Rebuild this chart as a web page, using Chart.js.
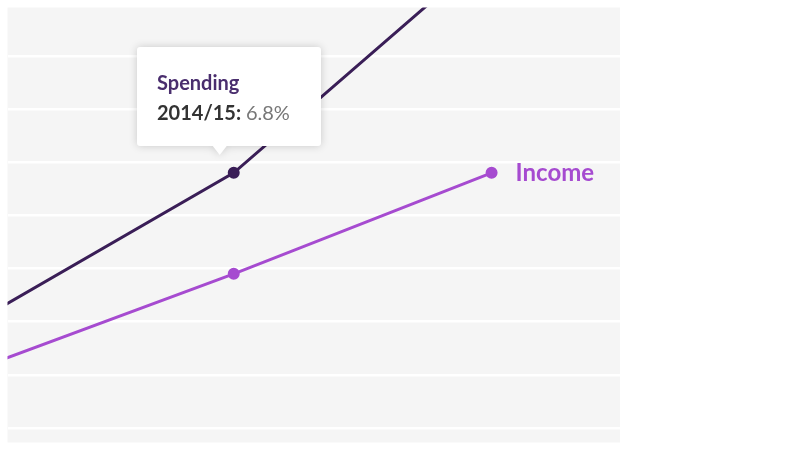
<!DOCTYPE html><html><head><meta charset="utf-8">
<script src="https://cdn.jsdelivr.net/npm/chart.js@4"></script>
<style>html,body{margin:0;background:#fff}#w{width:800px;height:450px}</style></head><body><div id="w"><canvas id="c"></canvas></div>
<script>
const categories = ["2013/14","2014/15","2015/16"];
const spending = [4.0, 6.8, 11.0];
const income = [3.1, 4.9, 6.8];
const pts = a => a.map((v,i)=>({x:i,y:v}));
const extras = {
 id:'extras',
 beforeDraw(ch){const {ctx,chartArea:a}=ch;ctx.save();ctx.fillStyle='#f5f5f5';ctx.fillRect(a.left,a.top,a.right-a.left,a.bottom-a.top);ctx.restore();},
 afterDraw(ch){
  const ctx=ch.ctx;
  const m=ch.getDatasetMeta(1).data[2];
  ctx.save();ctx.font='bold 24px Lato';ctx.fillStyle='#a64bd0';ctx.textBaseline='middle';ctx.fillText('Income',m.x+24,m.y);
  const p=ch.getDatasetMeta(0).data[1];
  const bx=137,by=47,bw=184,bh=99;
  ctx.shadowColor='rgba(0,0,0,0.18)';ctx.shadowBlur=8;ctx.fillStyle='#fff';
  ctx.beginPath();ctx.moveTo(bx+3,by);ctx.lineTo(bx+bw-3,by);ctx.quadraticCurveTo(bx+bw,by,bx+bw,by+3);ctx.lineTo(bx+bw,by+bh-3);ctx.quadraticCurveTo(bx+bw,by+bh,bx+bw-3,by+bh);
  ctx.lineTo(p.x-7,by+bh);ctx.lineTo(p.x-14,by+bh+9);ctx.lineTo(p.x-21,by+bh);
  ctx.lineTo(bx+3,by+bh);ctx.quadraticCurveTo(bx,by+bh,bx,by+bh-3);ctx.lineTo(bx,by+3);ctx.quadraticCurveTo(bx,by,bx+3,by);ctx.fill();
  ctx.shadowColor='transparent';
  ctx.textBaseline='alphabetic';ctx.font='bold 20px Lato';ctx.fillStyle='#4a2e6e';ctx.fillText('Spending',157,90);
  ctx.fillStyle='#333';ctx.fillText(categories[1]+':',157,120);
  const w=ctx.measureText(categories[1]+': ').width;
  ctx.font='20px Lato';ctx.fillStyle='#777';ctx.fillText(spending[1].toFixed(1)+'%',157+w,120);
  ctx.restore();
 }};
new Chart(document.getElementById('c'),{type:'line',
 data:{datasets:[
  {label:'Spending',data:pts(spending),borderColor:'#3a1e57',backgroundColor:'#3a1e57',borderWidth:3,pointRadius:[0,4.5,0],pointHoverRadius:4.5},
  {label:'Income',data:pts(income),borderColor:'#a64bd0',backgroundColor:'#a64bd0',borderWidth:3,pointRadius:4.5}]},
 options:{responsive:true,maintainAspectRatio:false,animation:false,events:[],
  layout:{padding:{left:-8,right:180,top:-8,bottom:-8}},
  plugins:{legend:{display:false},tooltip:{enabled:false}},
  scales:{
   x:{type:'linear',min:0.1226,max:2.498,ticks:{display:false},grid:{display:false},border:{display:false}},
   y:{min:1.727,max:9.909,afterBuildTicks(s){s.ticks=[2,3,4,5,6,7,8,9].map(v=>({value:v}));},ticks:{display:false},grid:{color:'#ffffff',lineWidth:2.5,drawTicks:false},border:{display:false}}
  }},
 plugins:[extras]});
</script></body></html>
